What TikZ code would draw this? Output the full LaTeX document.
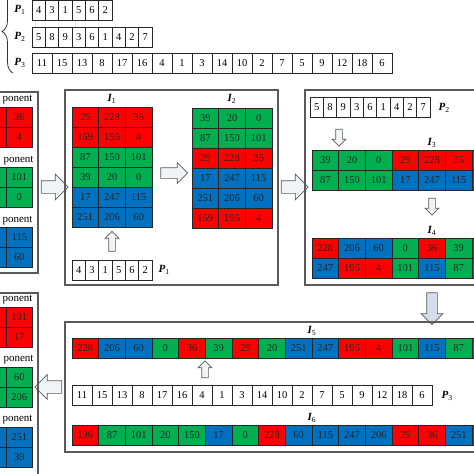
\documentclass[tikz,border=0pt]{standalone}
\usepackage{fontspec}
\setmainfont{Liberation Serif}
\usetikzlibrary{positioning,shapes.arrows,decorations.pathreplacing}
\definecolor{pixR}{HTML}{FF0000}
\definecolor{pixG}{HTML}{00B050}
\definecolor{pixB}{HTML}{0070C0}
\definecolor{framegray}{HTML}{5A5A5A}
\definecolor{arrowfill}{HTML}{F2F3F7}
\definecolor{arrowblue}{HTML}{D6DCEA}
\tikzset{pixcell/.style={draw=black!85,rectangle,minimum width=26.67pt,minimum height=20pt,inner sep=0,line width=0.7pt,
        font=\fontsize{10.5}{10.5}\selectfont,text=black!85},
    pixstrip/.style={draw=black!85,line width=0.7pt},
    permcell/.style={draw=black!85,rectangle,fill=white,minimum width=13.33pt,minimum height=20pt,inner sep=0,line width=0.7pt,
        font=\fontsize{10.5}{10.5}\selectfont},
    widecell/.style={permcell,minimum width=20pt},
    stagebox/.style={draw=framegray,line width=1.3pt},
    fatarrow/.style={single arrow,draw=framegray,fill=arrowfill,line width=0.7pt,inner xsep=0,single arrow head extend=3.5pt,inner ysep=3pt},
    imglabel/.style={font=\fontsize{11}{11}\selectfont},
    complabel/.style={anchor=east,font=\fontsize{11}{11}\selectfont}
}
% one image block: name, left, top, rows of value/colour
\newcommand{\pixgrid}[4]{%
  \foreach \row [count=\i] in {#4} {
    \foreach \v/\c [count=\j] in \row {
      \node (#1 \i-\j) [pixcell,fill=pix\c] at ({#2+26.67*(\j-0.5)},{#3+20*(\i-0.5)}) {\v};
    }
  }
}
\newcommand{\plab}[1]{{\bfseries\itshape P}\textsubscript{#1}}
\newcommand{\ilab}[1]{{\bfseries\itshape I}\textsubscript{#1}}

\begin{document}
\begin{tikzpicture}[x=1pt,y=-1pt]
\useasboundingbox (0,0) rectangle (474,474);
\clip (0,0) rectangle (474,474);

% keys
\draw [decorate,decoration={brace,amplitude=11pt},draw=black!80,line width=0.8pt] (13,73) -- (13,-10);
\node (P1 key) [imglabel] at (20,10) {\plab{1}};
\node (P2 key) [imglabel] at (20,37) {\plab{2}};
\node (P3 key) [imglabel] at (20,63) {\plab{3}};
\foreach \v [count=\j] in {4,3,1,5,6,2}
  \node (k1 \j) [permcell] at ({32+13.33*(\j-0.5)},10) {\v};
\foreach \v [count=\j] in {5,8,9,3,6,1,4,2,7}
  \node (k2 \j) [permcell] at ({32+13.33*(\j-0.5)},37) {\v};
\foreach \v [count=\j] in {11,15,13,8,17,16,4,1,3,14,10,2,7,5,9,12,18,6}
  \node (k3 \j) [widecell] at ({32+20*(\j-0.5)},63) {\v};

% input components
\draw [stagebox] (-60,92) rectangle (38,273);
\node (R in) [complabel] at (36,100) {ponent};
\foreach \y in {107,127} \draw [pixstrip,fill=pixR] (-21,\y) rectangle (6,\y+20);
\pixgrid{Rin}{6}{107}{{36/R},{4/R}}
\node (G in) [complabel] at (37,161) {ponent};
\foreach \y in {167,187} \draw [pixstrip,fill=pixG] (-21,\y) rectangle (6,\y+20);
\pixgrid{Gin}{6}{167}{{101/G},{0/G}}
\node (B in) [complabel] at (36,221) {ponent};
\foreach \y in {227,247} \draw [pixstrip,fill=pixB] (-21,\y) rectangle (6,\y+20);
\pixgrid{Bin}{6}{227}{{115/B},{60/B}}

\node (a1) [fatarrow,minimum height=27pt,inner ysep=6pt,single arrow head extend=6.5pt] at (51.5,187) {};

% stage one
\draw [stagebox] (65,90) rectangle (278,285);
\node (I1 lab) [imglabel] at (112,99) {\ilab{1}};
\pixgrid{I1}{72}{107}{{29/R,228/R,36/R},{169/R,196/R,4/R},{87/G,150/G,101/G},{39/G,20/G,0/G},{17/B,247/B,115/B},{251/B,206/B,60/B}}
\node (I2 lab) [imglabel] at (232,99) {\ilab{2}};
\pixgrid{I2}{192}{108}{{39/G,20/G,0/G},{87/G,150/G,101/G},{29/R,228/R,36/R},{17/B,247/B,115/B},{251/B,206/B,60/B},{169/R,196/R,4/R}}
\node (a2) [fatarrow,minimum height=27pt,inner ysep=5pt,single arrow head extend=5pt] at (171.5,173) {};
\node (a4) [fatarrow,minimum height=20pt,rotate=90] at (112,243) {};
\foreach \v [count=\j] in {4,3,1,5,6,2}
  \node (p1 \j) [permcell] at ({72+13.33*(\j-0.5)},270) {\v};
\node (P1 lab) [imglabel,anchor=west] at (155,270) {\plab{1}};

\node (a3) [fatarrow,minimum height=27pt,inner ysep=6pt,single arrow head extend=6.5pt] at (291.5,187) {};

% stage two
\draw [stagebox] (305,90) rectangle (620,285);
\foreach \v [count=\j] in {5,8,9,3,6,1,4,2,7}
  \node (p2 \j) [permcell] at ({310+13.33*(\j-0.5)},107) {\v};
\node (P2 lab) [imglabel,anchor=west] at (435,108) {\plab{2}};
\node (a5) [fatarrow,minimum height=17pt,rotate=-90] at (339,136) {};
\node (I3 lab) [imglabel] at (432,143) {\ilab{3}};
\pixgrid{I3}{312}{150}{{39/G,20/G,0/G,29/R,228/R,36/R},{87/G,150/G,101/G,17/B,247/B,115/B}}
\draw [pixstrip,fill=pixB] (472,150) rectangle (499,170);
\draw [pixstrip,fill=pixR] (472,170) rectangle (499,190);
\node (a6) [fatarrow,minimum height=17pt,rotate=-90] at (432,205) {};
\node (I4 lab) [imglabel] at (432,231) {\ilab{4}};
\pixgrid{I4}{312}{238}{{228/R,206/B,60/B,0/G,36/R,39/G},{247/B,196/R,4/R,101/G,115/B,87/G}}
\draw [pixstrip,fill=pixR] (472,238) rectangle (499,258);
\draw [pixstrip,fill=pixB] (472,258) rectangle (499,278);

\node (a7) [fatarrow,fill=arrowblue,minimum height=32pt,inner ysep=5pt,single arrow head extend=5.5pt,rotate=-90] at (432,306) {};

% stage three
\draw [stagebox] (65,322) rectangle (620,452);
\node (I5 lab) [imglabel] at (312,331) {\ilab{5}};
\pixgrid{I5}{72}{338}{{228/R,206/B,60/B,0/G,36/R,39/G,29/R,20/G,251/B,247/B,196/R,4/R,101/G,115/B,87/G}}
\draw [pixstrip,fill=pixB] (472,338) rectangle (499,358);
\node (a8) [fatarrow,minimum height=17pt,rotate=90] at (205,371) {};
\foreach \v [count=\j] in {11,15,13,8,17,16,4,1,3,14,10,2,7,5,9,12,18,6}
  \node (p3 \j) [widecell] at ({72+20*(\j-0.5)},395) {\v};
\node (P3 lab) [imglabel,anchor=west] at (438,396) {\plab{3}};
\node (I6 lab) [imglabel] at (312,418) {\ilab{6}};
\pixgrid{I6}{72}{425}{{196/R,87/G,101/G,20/G,150/G,17/B,0/G,228/R,60/B,115/B,247/B,206/B,29/R,36/R,251/B}}
\draw [pixstrip,fill=pixR] (472,425) rectangle (499,445);

\node (a9) [fatarrow,minimum height=27pt,inner ysep=6pt,single arrow head extend=6pt,rotate=180] at (51.5,387) {};

% output components
\draw [stagebox] (-60,293) rectangle (38,490);
\node (R out) [complabel] at (36,300) {ponent};
\foreach \y in {307,327} \draw [pixstrip,fill=pixR] (-21,\y) rectangle (6,\y+20);
\pixgrid{Rout}{6}{307}{{101/R},{17/R}}
\node (G out) [complabel] at (37,360) {ponent};
\foreach \y in {367,387} \draw [pixstrip,fill=pixG] (-21,\y) rectangle (6,\y+20);
\pixgrid{Gout}{6}{367}{{60/G},{206/G}}
\node (B out) [complabel] at (36,420) {ponent};
\foreach \y in {427,447} \draw [pixstrip,fill=pixB] (-21,\y) rectangle (6,\y+20);
\pixgrid{Bout}{6}{427}{{251/B},{39/B}}

\end{tikzpicture}
\end{document}
